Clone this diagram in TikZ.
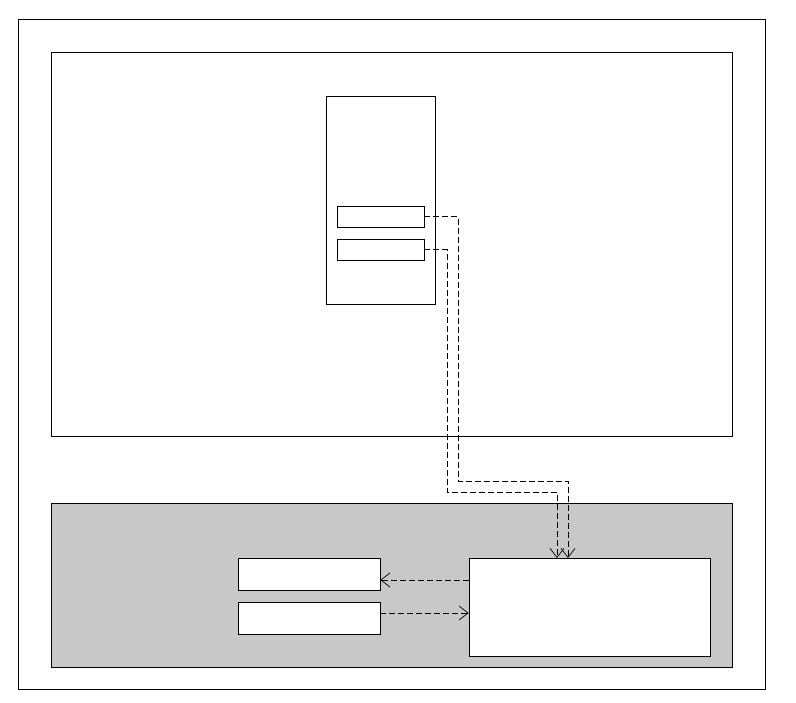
\documentclass[tikz,border=0pt]{standalone}
\usetikzlibrary{arrows.meta}
\begin{document}
\begin{tikzpicture}[x=1pt,y=-1pt,
  box/.style={draw=black,line width=0.7pt},
  conn/.style={draw=black,dashed,dash pattern=on 6pt off 3pt,line width=0.7pt,-{Straight Barb[length=9pt,width=14pt]}}]
\useasboundingbox (0,0) rectangle (796,703);
\draw[box] (18,19) rectangle (765,689);
\draw[box] (51,52) rectangle (732,436);
\draw[box,fill={rgb,255:red,200;green,200;blue,200}] (51,503) rectangle (732,667);
\draw[box,fill=white] (326,96) rectangle (435,304);
\node[box,fill=white,minimum width=87pt,minimum height=21pt,inner sep=0pt] (s1) at (380.5,216.5) {};
\node[box,fill=white,minimum width=87pt,minimum height=21pt,inner sep=0pt] (s2) at (380.5,249.5) {};
\node[box,fill=white,minimum width=142pt,minimum height=32pt,inner sep=0pt] (b1) at (309,574) {};
\node[box,fill=white,minimum width=142pt,minimum height=32pt,inner sep=0pt] (b2) at (309,618) {};
\node[box,fill=white,minimum width=241pt,minimum height=98pt,inner sep=0pt] (r) at (589.5,607) {};
\draw[conn] (s1.east) -- (458,216.5) -- (458,481) -- (568,481) -- (568,558);
\draw[conn] (s2.east) -- (447,249.5) -- (447,492) -- (557,492) -- (557,558);
\draw[conn] (r.west |- 0,580) -- (b1.east |- 0,580);
\draw[conn] (b2.east |- 0,613) -- (r.west |- 0,613);
\end{tikzpicture}
\end{document}
